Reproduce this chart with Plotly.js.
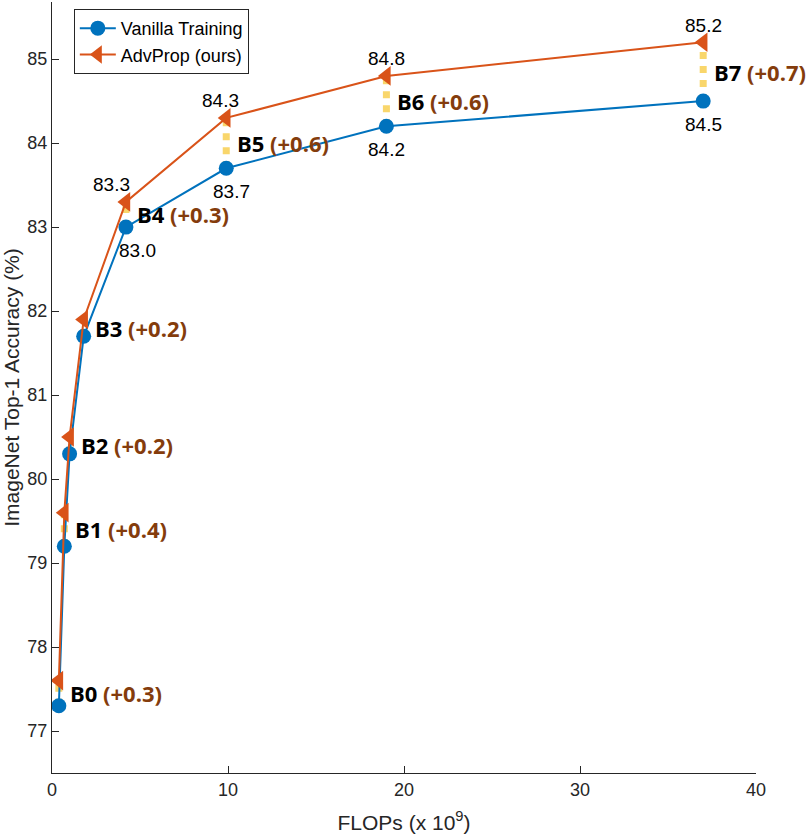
<!DOCTYPE html>
<html>
<head>
<meta charset="utf-8">
<script src="https://cdn.plot.ly/plotly-3.0.1.min.js"></script>
<style>
  html, body { margin: 0; padding: 0; background: #fff; }
  #chart { width: 808px; height: 837px; }
</style>
</head>
<body>
<div id="chart"></div>
<script>
// EfficientNet B0..B7, FLOPs in 1e9
const models = ['B0', 'B1', 'B2', 'B3', 'B4', 'B5', 'B6', 'B7'];
const flops = [0.39, 0.70, 1.0, 1.8, 4.2, 9.9, 19, 37];
const vanillaAcc = [77.3, 79.2, 80.3, 81.7, 83.0, 83.7, 84.2, 84.5];
const advpropAcc = [77.6, 79.6, 80.5, 81.9, 83.3, 84.3, 84.8, 85.2];
const gains = ['+0.3', '+0.4', '+0.2', '+0.2', '+0.3', '+0.6', '+0.6', '+0.7'];
// only the bigger models get value labels
const labelled = ['B4', 'B5', 'B6', 'B7'];

const yTicks = [77, 78, 79, 80, 81, 82, 83, 84, 85];
const xTicks = [0, 10, 20, 30, 40];

const blue = '#0072BD', orange = '#D95319', yellow = '#F9D66B', brown = '#843C0C';
const axisCol = '#262626';
const helv = '"Liberation Sans", Arial, sans-serif';

// yellow gap bars between the two curves
let gapX = [], gapY = [];
flops.forEach((f, i) => {
  gapX.push(f, f, null);
  gapY.push(vanillaAcc[i], advpropAcc[i], null);
});

const traces = [
  {
    x: gapX, y: gapY, mode: 'lines', showlegend: false, hoverinfo: 'skip',
    line: {color: yellow, width: 7, dash: '7px,7px'}
  },
  {
    x: flops, y: vanillaAcc, name: 'Vanilla Training', mode: 'lines+markers',
    line: {color: blue, width: 2},
    marker: {symbol: 'circle', size: 15, color: blue}
  },
  {
    x: flops, y: advpropAcc, name: 'AdvProp (ours)', mode: 'lines+markers',
    line: {color: orange, width: 2},
    marker: {symbol: 'triangle-left', size: 17, color: orange}
  }
];

let annotations = [];
models.forEach((m, i) => {
  annotations.push({
    x: flops[i], y: (vanillaAcc[i] + advpropAcc[i]) / 2,
    xanchor: 'left', yanchor: 'middle', xshift: 9, showarrow: false,
    text: '<b>' + m + ' <span style="color:' + brown + '">(' + gains[i] + ')</span></b>',
    font: {family: '"Open Sans", Lato, sans-serif', size: 22, color: '#000'}
  });
  if (labelled.includes(m)) {
    const dx = m === 'B4' ? -14 : (m === 'B5' ? -6 : 0);
    annotations.push({
      x: flops[i], y: advpropAcc[i], xshift: dx, yshift: 17,
      xanchor: 'center', yanchor: 'middle', showarrow: false,
      text: advpropAcc[i].toFixed(1),
      font: {family: helv, size: 19, color: '#000'}
    });
    annotations.push({
      x: flops[i], y: vanillaAcc[i], xshift: -dx / 1.2, yshift: -23,
      xanchor: 'center', yanchor: 'middle', showarrow: false,
      text: vanillaAcc[i].toFixed(1),
      font: {family: helv, size: 19, color: '#000'}
    });
  }
});

const layout = {
  width: 808, height: 837,
  margin: {l: 52, r: 52, t: 2, b: 64},
  paper_bgcolor: '#fff', plot_bgcolor: '#fff',
  font: {family: helv, size: 18, color: axisCol},
  showlegend: true,
  legend: {
    x: 0.031, y: 0.991, xanchor: 'left', yanchor: 'top',
    bgcolor: '#fff', bordercolor: axisCol, borderwidth: 1,
    font: {family: helv, size: 18, color: '#000'},
    tracegroupgap: 0, itemwidth: 36
  },
  xaxis: {
    range: [0, 40], tickvals: xTicks, ticks: 'inside', ticklen: 7, tickcolor: axisCol,
    showline: true, linecolor: axisCol, linewidth: 1, showgrid: false, zeroline: false,
    tickfont: {size: 18, color: axisCol},
    title: {text: 'FLOPs (x 10<sup>9</sup>)', font: {size: 21, color: axisCol}, standoff: 16}
  },
  yaxis: {
    range: [76.5, 85.68], tickvals: yTicks, ticks: 'inside', ticklen: 7, tickcolor: axisCol,
    showline: true, linecolor: axisCol, linewidth: 1, showgrid: false, zeroline: false,
    tickfont: {size: 18, color: axisCol},
    title: {text: 'ImageNet Top-1 Accuracy (%)', font: {size: 21, color: axisCol}, standoff: 6}
  },
  annotations: annotations
};

Plotly.newPlot('chart', traces, layout, {displayModeBar: false, staticPlot: true});
</script>
</body>
</html>
